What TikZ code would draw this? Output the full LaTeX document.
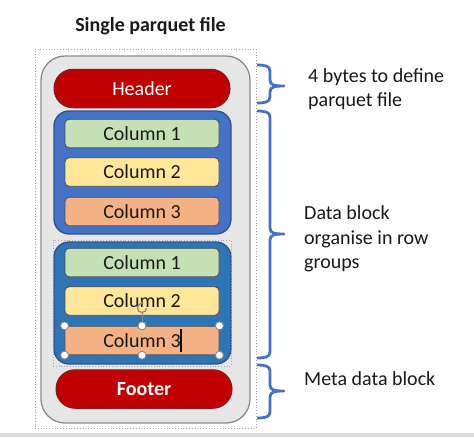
\documentclass[tikz,border=0pt]{standalone}
\usepackage{fontspec}
\setmainfont{Carlito}
\usetikzlibrary{arrows.meta,calc}
\definecolor{filegray}{HTML}{E7E6E6}
\definecolor{fileedge}{HTML}{8C8C8C}
\definecolor{hdrred}{HTML}{C00000}
\definecolor{hdredge}{HTML}{7A2020}
\definecolor{bluea}{HTML}{4472C4}
\definecolor{blueb}{HTML}{2E75B6}
\definecolor{blueedge}{HTML}{2F528F}
\definecolor{colgreen}{HTML}{C5E0B4}
\definecolor{colyellow}{HTML}{FFE699}
\definecolor{colorange}{HTML}{F4B183}
\definecolor{coledge}{HTML}{505050}
\definecolor{bandgray}{HTML}{DCDCDC}
\definecolor{dotgray}{HTML}{A6A6A6}
\definecolor{textblack}{HTML}{1A1A1A}
\newcommand\ofbrace[3]{%
  \draw[bracestyle] (257,#1) .. controls (265,#1) and (270,#1+1) .. (270,#1+6)
    -- (270,#3-6) .. controls (270,#3-1) and (274,#3) .. (284,#3)
    .. controls (274,#3) and (270,#3+1) .. (270,#3+6)
    -- (270,#2-6) .. controls (270,#2-1) and (265,#2) .. (257,#2);}
\tikzset{
  txt/.style={font=\fontsize{20}{24.4}\selectfont, inner sep=0pt, text=textblack},
  filebox/.style={draw=fileedge, line width=1.3pt, fill=filegray, rounded corners=24pt, inner sep=0pt},
  dotbox/.style={draw=dotgray, line width=0.8pt, dotted, inner sep=0pt},
  pill/.style={draw=hdredge, line width=1pt, fill=hdrred, rounded corners=19pt, inner sep=0pt,
    minimum width=176pt, minimum height=38.5pt, font=\fontsize{20}{24.4}\selectfont, text=white},
  groupbox/.style={draw=blueedge, line width=1.3pt, rounded corners=15pt, inner sep=0pt, minimum width=177pt},
  colbox/.style={draw=coledge, line width=0.9pt, rounded corners=4pt, inner sep=0pt,
    minimum width=154pt, minimum height=28.5pt, font=\fontsize{20}{24.4}\selectfont, text=textblack},
  bracestyle/.style={draw=bluea, line width=2.8pt, line join=round},
  handle/.style={draw=fileedge, fill=white, line width=0.9pt},
}
\begin{document}
\begin{tikzpicture}[x=1pt,y=-1pt]
\useasboundingbox (0,0) rectangle (474,437);
\fill[white] (0,0) rectangle (474,437);
\fill[bandgray] (0,433) rectangle (474,437);

\node[txt, anchor=base, font=\fontsize{20}{24.4}\selectfont\bfseries] (title) at (150.5,31) {Single parquet file};

\node[dotbox, minimum width=221pt, minimum height=379pt] (outer) at (145.5,238.5) {};
\node[filebox, minimum width=209pt, minimum height=367pt] (file) at (145.5,239.5) {};

\node[pill] (header) at (142,88.5) {Header};

\node[groupbox, fill=bluea, minimum height=123pt] (group1) at (142.5,172.5) {};
\node[colbox, fill=colgreen] (g1c1) at (142,133.5) {Column 1};
\node[colbox, fill=colyellow] (g1c2) at (142,172) {Column 2};
\node[colbox, fill=colorange] (g1c3) at (142,211.5) {Column 3};

\node[groupbox, fill=blueb, minimum height=122pt] (group2) at (142.5,303) {};
\node[dotbox, minimum width=178pt, minimum height=126pt] (sel) at (142,303) {};
\node[colbox, fill=colgreen] (g2c1) at (142,262.5) {Column 1};
\node[colbox, fill=colyellow] (g2c2) at (142,301) {Column 2};
\node[colbox, fill=colorange] (g2c3) at (142,340.5) {Column 3};

\node[pill, font=\fontsize{20}{24.4}\selectfont\bfseries] (footer) at (144,389) {Footer};

% selection decorations
\coordinate (rot) at (142,308);
\draw[fileedge, line width=0.9pt] (g2c3.north) -- ($(rot)+(0,4.5)$);
\draw[fileedge, line width=1.3pt, -{Stealth[length=3pt,width=3pt]}] (rot) ++(4.5,0) arc[start angle=0, end angle=-290, radius=4.5pt];
\foreach \a in {north west, north, north east, south west, south, south east}
  \draw[handle] (g2c3.\a) circle (4);
\draw[black, line width=1.2pt] (181,329) -- (181,352);

% braces
\ofbrace{65}{103}{86}
\ofbrace{111}{358}{234}
\ofbrace{365}{418}{391}

% labels (base anchor = baseline of the last line)
\node[txt, anchor=base west, align=left] (lbl1) at (308,106.5) {4 bytes to define\\parquet file};
\node[txt, anchor=base west, align=left] (lbl2) at (304,268.5) {Data block\\organise in row\\groups};
\node[txt, anchor=base west, align=left] (lbl3) at (304,385) {Meta data block};
\end{tikzpicture}
\end{document}
